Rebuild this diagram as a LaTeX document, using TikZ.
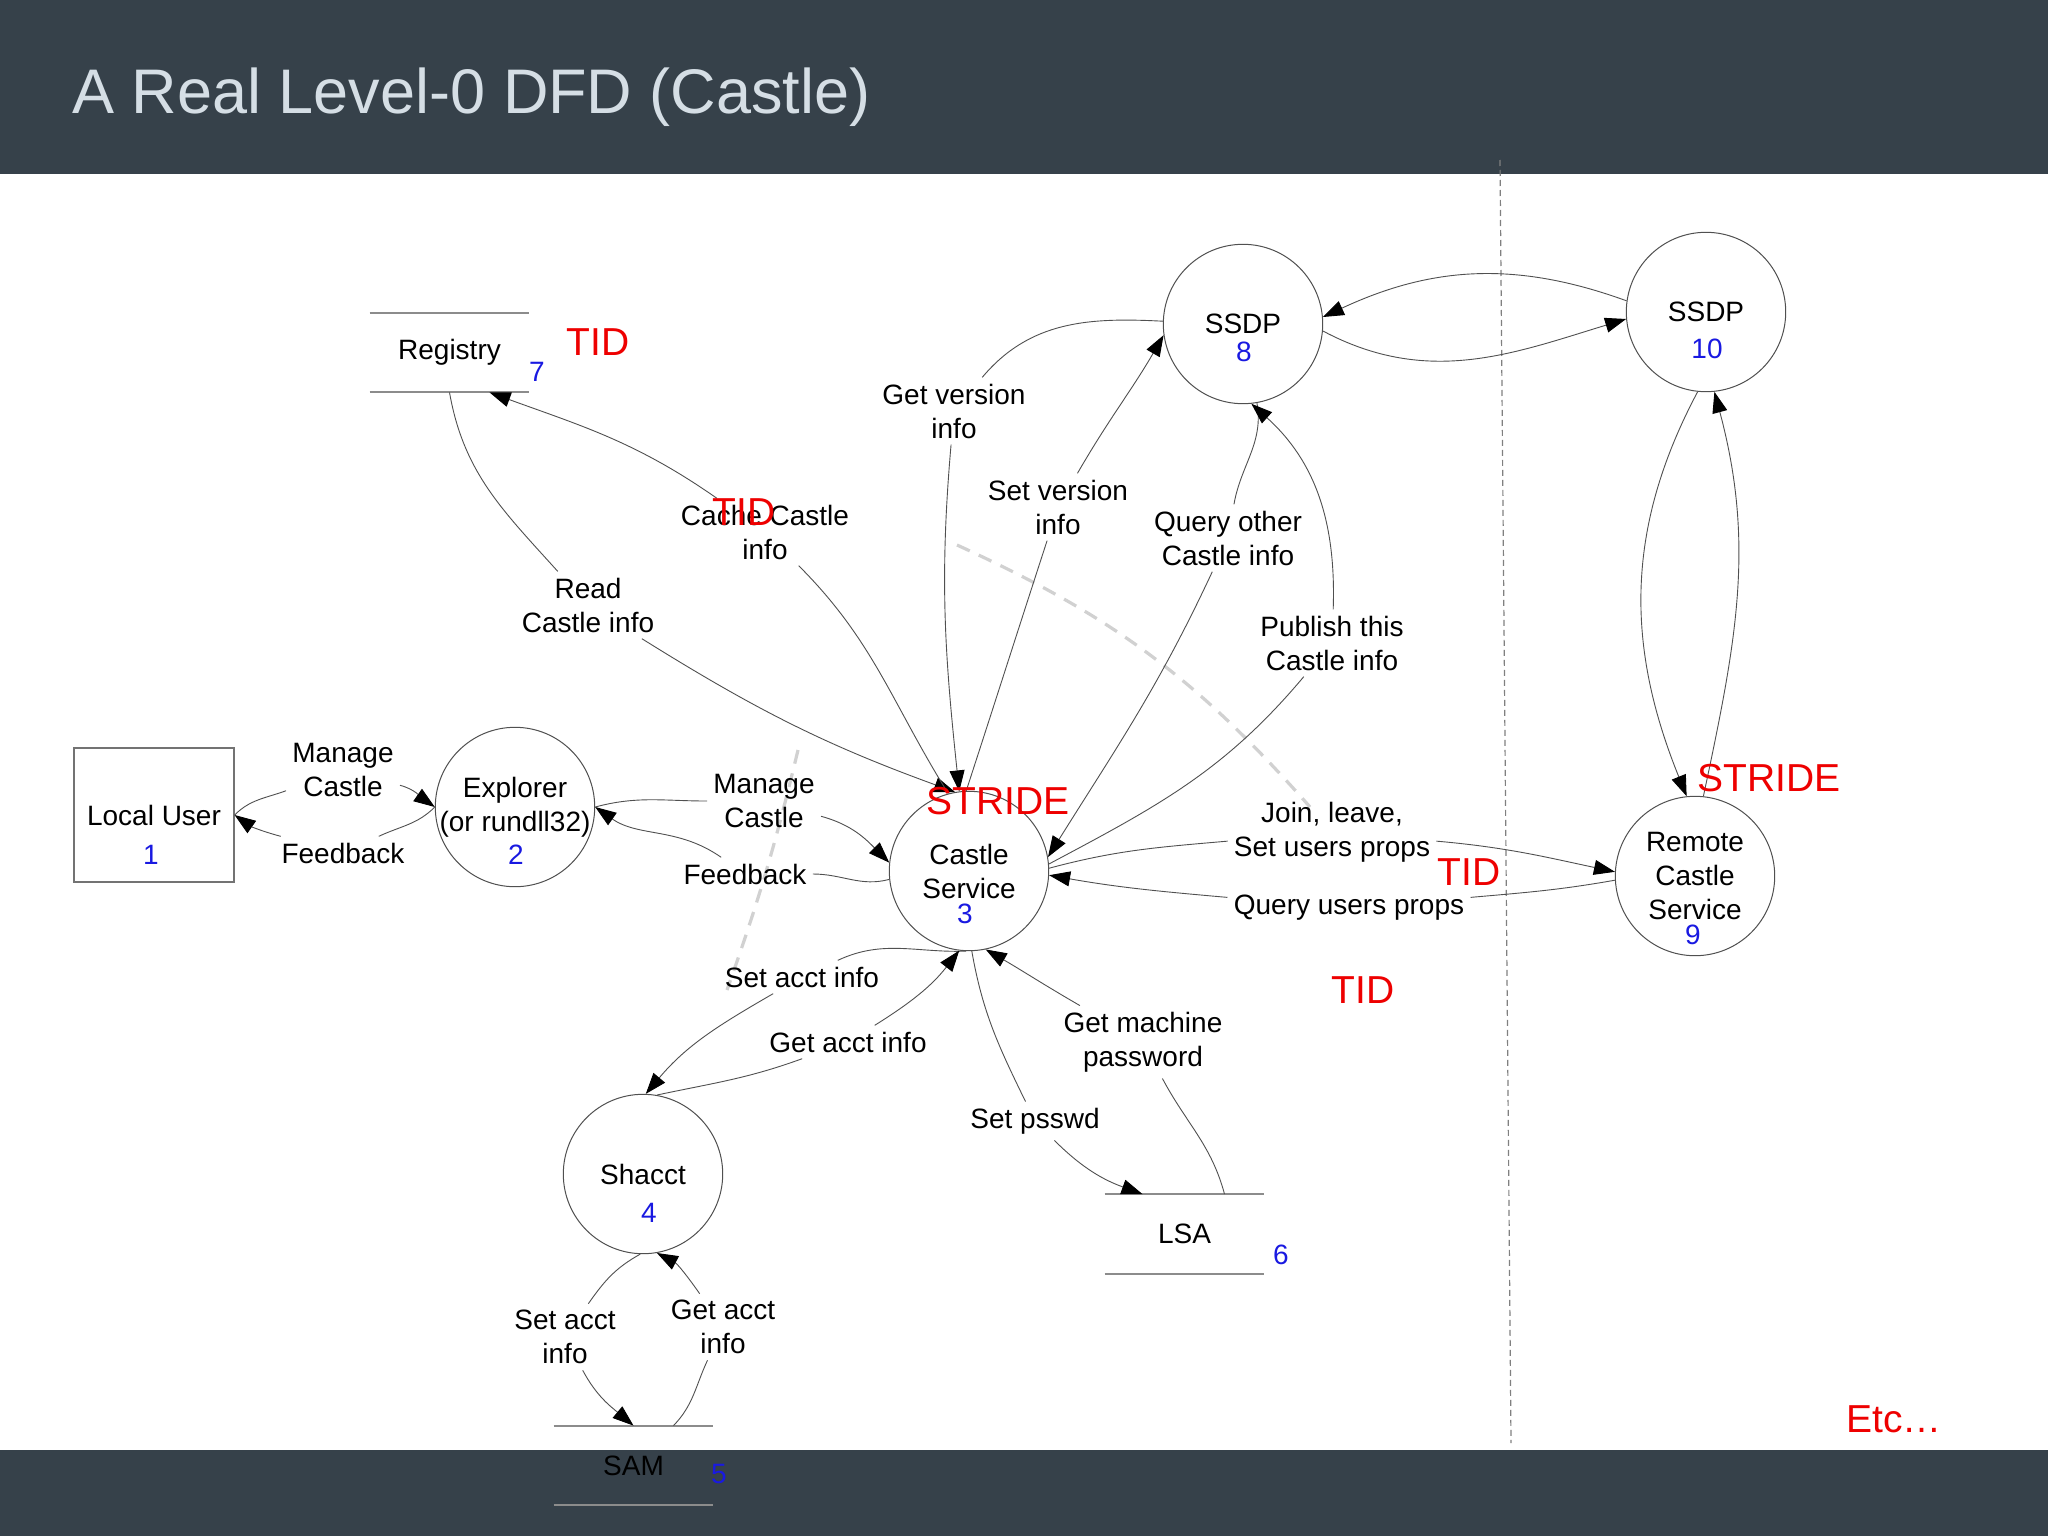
\documentclass[tikz,border=0pt]{standalone}
\usepackage{fontspec}
\setmainfont{Liberation Sans}
\usetikzlibrary{arrows.meta}
\definecolor{slate}{RGB}{54,65,74}
\definecolor{titlefg}{RGB}{213,222,229}
\definecolor{numblue}{RGB}{25,25,225}
\definecolor{threatred}{RGB}{238,0,0}
\definecolor{flowgray}{RGB}{80,80,80}
\tikzset{%
  proc/.style={circle, draw=flowgray, line width=0.5pt, minimum size=79.7pt, inner sep=-4pt, align=center, font=\fontsize{14}{17}\selectfont}, % processes
  ext/.style={rectangle, draw=black!55, line width=0.6pt, minimum width=80pt, minimum height=67pt, font=\fontsize{14}{17}\selectfont}, % external entity
  store/.style={rectangle, minimum width=79.5pt, minimum height=39.5pt, inner sep=0pt, font=\fontsize{14}{17}\selectfont}, % data stores, lines drawn later
  storeline/.style={draw=black!45, line width=1pt},
  lbl/.style={align=center, inner sep=3pt, font=\fontsize{14}{17}\selectfont},
  num/.style={text=numblue, inner sep=0pt, font=\fontsize{14}{17}\selectfont},
  threat/.style={text=threatred, inner sep=0pt, font=\fontsize{19.5}{22}\selectfont},
  flow/.style={draw=flowgray, line width=0.45pt, -{Triangle[length=10.5pt, width=7.5pt, color=black]}},
  trust/.style={draw=black!18, line width=1.6pt, dash pattern=on 7pt off 5pt},
  machine/.style={draw=black!50, line width=0.6pt, dash pattern=on 3pt off 2pt}
}

\begin{document}
\begin{tikzpicture}[x=0.5pt, y=0.5pt]
  \useasboundingbox (0,0) rectangle (2048,-1536);
  \fill[white] (0,0) rectangle (2048,-1536);
  \fill[slate] (0,0) rectangle (2048,-174);
  \fill[slate] (0,-1450) rectangle (2048,-1536);
  \node[anchor=base west, text=titlefg, inner sep=0pt, font=\fontsize{31.5}{36}\selectfont] (title) at (72,-113) {A Real Level-0 DFD (Castle)};

  % boundaries
  \draw[machine] (1500,-160) -- (1511,-1443);
  \draw[trust] (957,-545) to[bend left=12] (1310,-807);
  \draw[trust] (798,-750) to[bend left=3] (727,-990);

  \node[ext] (lu) at (154,-815) {Local User};
  \node[proc] (exp) at (515,-807) {Explorer\\(or rundll32)};
  \node[proc] (cs) at (969,-871) {Castle\\Service};
  \node[proc] (sh) at (643,-1174) {Shacct};
  \node[proc] (ssdp) at (1243,-324) {SSDP};
  \node[proc] (rssdp) at (1706,-312) {SSDP};
  \node[proc] (rcs) at (1695,-876) {Remote\\Castle\\Service};
  \node[store] (reg) at (449.5,-352.5) {Registry};
  \node[store] (lsa) at (1184.5,-1234) {LSA};
  \node[store] (sam) at (633.5,-1465.5) {SAM};
  \foreach \s in {reg,lsa,sam}
    \draw[storeline] (\s.north west) -- (\s.north east) (\s.south west) -- (\s.south east);

  \node[num] (n1) at (151,-855) {1};
  \node[num] (n2) at (516,-855) {2};
  \node[num] (n3) at (965,-914) {3};
  \node[num] (n4) at (649,-1213) {4};
  \node[num] (n5) at (719,-1474) {5};
  \node[num] (n6) at (1281,-1255) {6};
  \node[num] (n7) at (537,-372) {7};
  \node[num] (n8) at (1244,-352) {8};
  \node[num] (n9) at (1693,-935) {9};
  \node[num] (n10) at (1707,-349) {10};

  \node[lbl] (f1) at (343,-770) {Manage\\Castle};
  \node[lbl] (f2) at (343,-853) {Feedback};
  \node[lbl] (f3) at (764,-801) {Manage\\Castle};
  \node[lbl] (f4) at (745,-874) {Feedback};
  \node[lbl] (f5) at (588,-605) {Read\\Castle info};
  \node[lbl] (f6) at (765,-532) {Cache Castle\\info};
  \node[lbl] (f7) at (954,-411) {Get version\\info};
  \node[lbl] (f8) at (1058,-507) {Set version\\info};
  \node[lbl] (f9) at (1228,-538) {Query other\\Castle info};
  \node[lbl] (f10) at (1332,-643) {Publish this\\Castle info};
  \node[lbl] (f11) at (1332,-832) {Join, leave,\\Set users props};
  \node[lbl] (f12) at (1349,-908) {Query users props};
  \node[lbl] (f13) at (802,-977) {Set acct info};
  \node[lbl] (f14) at (848,-1042) {Get acct info};
  \node[lbl] (f15) at (1143,-1042) {Get machine\\password};
  \node[lbl] (f16) at (1035,-1121) {Set psswd};
  \node[lbl] (f17) at (565,-1337) {Set acct\\info};
  \node[lbl] (f18) at (723,-1327) {Get acct\\info};

  \draw[flow] (lu.east) to[out=45,in=200] (f1) to[out=-15,in=145] (exp.west);
  \draw[flow] (exp.west) to[out=225,in=25] (f2) to[out=165,in=-35] (lu.east);
  \draw[flow] (exp.east) to[out=15,in=180] (f3) to[out=-15,in=135] (cs.174);
  \draw[flow] (cs.186) to[out=195,in=0] (f4) to[out=145,in=-35] (exp.east);
  \draw[flow] (reg.south) to[out=-80,in=132] (f5) to[out=-32,in=160] (cs.100);
  \draw[flow] (cs.105) to[out=122,in=-45] (f6) to[out=145,in=-20] ([xshift=20pt]reg.south);
  \draw[flow] (ssdp.178) to[out=177,in=50] (f7) to[out=-95,in=96] (cs.97);
  \draw[flow] (cs.92) to[out=72,in=-108] (f8) to[out=60,in=-120] (ssdp.188);
  \draw[flow] (ssdp.-80) to[out=-80,in=80] (f9) to[out=-115,in=58] (cs.10);
  \draw[flow] (cs.5) to[out=28,in=-130] (f10) to[out=88,in=-42] (ssdp.-84);
  \draw[flow] (rssdp.172) to[out=160,in=25] (ssdp.5);
  \draw[flow] (ssdp.-5) to[out=-28,in=197] (rssdp.185);
  \draw[flow] (rssdp.-96) to[out=-118,in=112] (rcs.96);
  \draw[flow] (rcs.84) to[out=78,in=-75] (rssdp.-84);
  \draw[flow] (cs.2) to[out=15,in=185] (f11) to[out=-5,in=168] (rcs.177);
  \draw[flow] (rcs.183) to[out=190,in=5] (f12) to[out=175,in=-10] (cs.-3);
  \draw[flow] (cs.-92) to[out=182,in=25] (f13) to[out=-150,in=50] (sh.88);
  \draw[flow] (sh.80) to[out=12,in=200] (f14) to[out=32,in=-128] (cs.-97);
  \draw[flow] ([xshift=20pt]lsa.north) to[out=105,in=-62] (f15) to[out=150,in=-30] (cs.-78);
  \draw[flow] (cs.-88) to[out=-80,in=116] (f16) to[out=-45,in=160] ([xshift=-21pt]lsa.north);
  \draw[flow] (sh.-92) to[out=-151,in=55] (f17) to[out=-62,in=140] (sam.north);
  \draw[flow] ([xshift=20pt]sam.north) to[out=46,in=-115] (f18) to[out=125,in=-28] (sh.-80);

  \node[threat] (t1) at (598,-342) {TID};
  \node[threat] (t2) at (744,-512) {TID};
  \node[threat] (t3) at (998,-801) {STRIDE};
  \node[threat] (t4) at (1769,-778) {STRIDE};
  \node[threat] (t5) at (1469,-872) {TID};
  \node[threat] (t6) at (1363,-990) {TID};
  \node[threat, anchor=base west] (t7) at (1846,-1432) {Etc…};
\end{tikzpicture}
\end{document}
